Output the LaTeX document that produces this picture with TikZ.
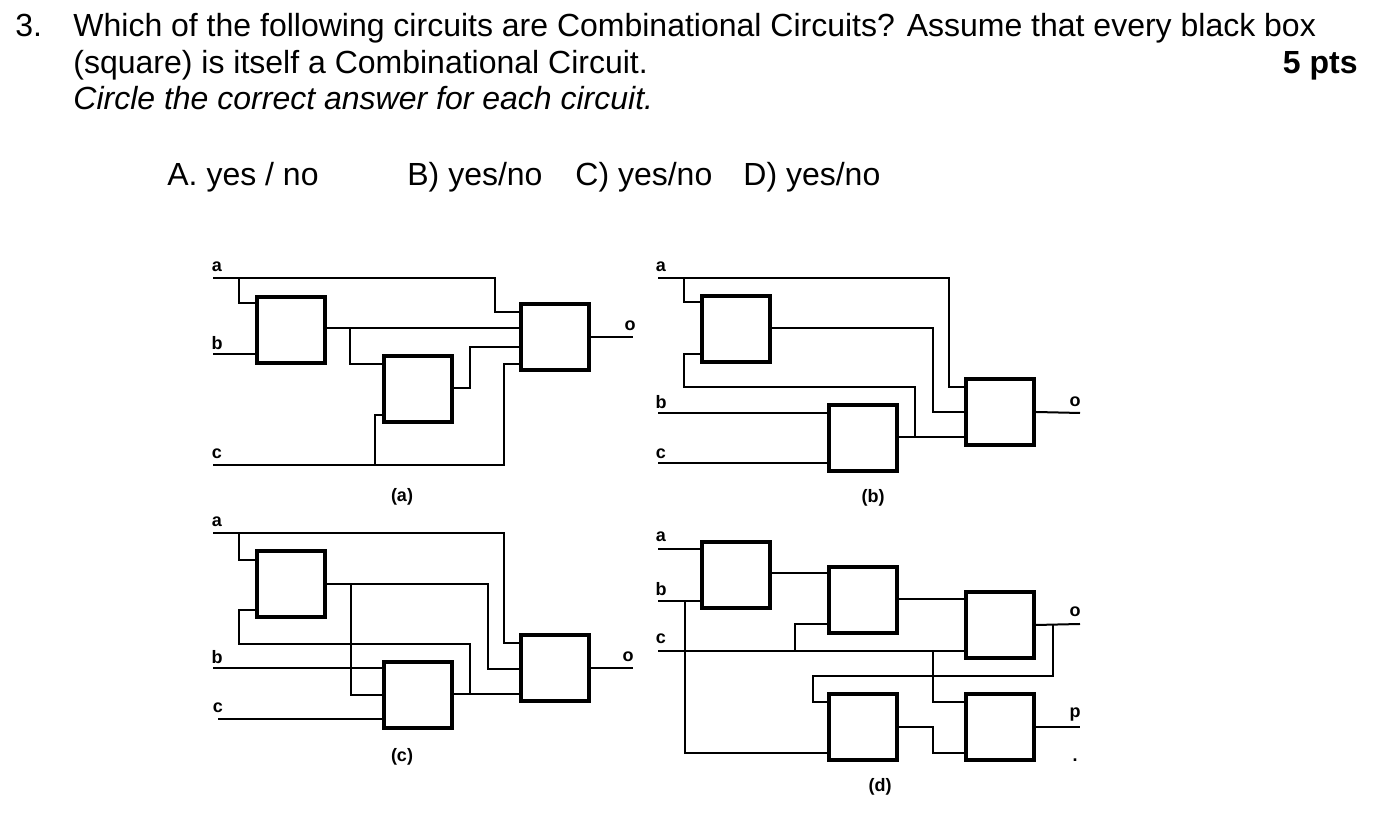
\documentclass[tikz,border=0pt]{standalone}
\usepackage{fontspec}
\setmainfont{Liberation Sans}
\begin{document}
\begin{tikzpicture}[x=0.5pt,y=-0.5pt,
  box/.style={draw,line width=2pt,minimum width=34pt,minimum height=33pt,inner sep=0pt},
  wire/.style={line width=1pt},
  lbl/.style={font=\bfseries\fontsize{9}{9}\selectfont,inner sep=0pt},
  txt/.style={anchor=base west,inner sep=0pt,font=\fontsize{16}{18}\selectfont}]
\useasboundingbox (0,0) rectangle (1389,838);
% question text
\node[txt] (num) at (15,37) {3.};
\node[txt] (l1) at (73,37) {Which of the following circuits are Combinational Circuits? Assume that every black box};
\node[txt] (l2) at (73,74) {(square) is itself a Combinational Circuit.};
\node[txt,anchor=base east,font=\bfseries\fontsize{16}{18}\selectfont] (pts) at (1358,74) {5 pts};
\node[txt,font=\itshape\fontsize{16}{18}\selectfont] (l3) at (73,110) {Circle the correct answer for each circuit.};
\node[txt] (ansA) at (167,186) {A. yes / no};
\node[txt] (ansB) at (407,186) {B) yes/no};
\node[txt] (ansC) at (575,186) {C) yes/no};
\node[txt] (ansD) at (743,186) {D) yes/no};
% circuit (a)
\node[box] (a1) at (291,330) {};
\node[box] (a2) at (418,389) {};
\node[box] (a3) at (555,337) {};
\node[lbl] at (217,267) {a};
\node[lbl] at (217,343) {b};
\node[lbl] at (217,454) {c};
\node[lbl] at (630,326) {o};
\node[lbl] at (402,497) {(a)};
\draw[wire] (213,278) -- (495,278) -- (495,312) -- (a3.west |- 0,312);
\draw[wire] (239,278) -- (239,303) -- (a1.west |- 0,303);
\draw[wire] (213,354) -- (a1.west |- 0,354);
\draw[wire] (a1.east |- 0,328) -- (a3.west |- 0,328);
\draw[wire] (350,328) -- (350,364) -- (a2.west |- 0,364);
\draw[wire] (a2.east |- 0,388) -- (470,388) -- (470,347) -- (a3.west |- 0,347);
\draw[wire] (213,465) -- (504,465) -- (504,364) -- (a3.west |- 0,364);
\draw[wire] (375,465) -- (375,415) -- (a2.west |- 0,415);
\draw[wire] (a3.east) -- (633,337);
% circuit (b)
\node[box] (b1) at (736,329) {};
\node[box] (b2) at (863,438) {};
\node[box] (b3) at (1000,412) {};
\node[lbl] at (661,267) {a};
\node[lbl] at (661,402) {b};
\node[lbl] at (661,454) {c};
\node[lbl] at (1075,402) {o};
\node[lbl] at (873,498) {(b)};
\draw[wire] (658,278) -- (949,278) -- (949,387) -- (b3.west |- 0,387);
\draw[wire] (684,278) -- (684,302) -- (b1.west |- 0,302);
\draw[wire] (b1.west |- 0,354) -- (684,354) -- (684,387) -- (915,387) -- (915,437);
\draw[wire] (b1.east |- 0,328) -- (933,328) -- (933,412) -- (b3.west |- 0,412);
\draw[wire] (658,413) -- (b2.west |- 0,413);
\draw[wire] (658,463) -- (b2.west |- 0,463);
\draw[wire] (b2.east |- 0,437) -- (b3.west |- 0,437);
\draw[wire] (b3.east) -- (1080,413);
% circuit (c)
\node[box] (c1) at (291,584) {};
\node[box] (c2) at (418,695) {};
\node[box] (c3) at (555,668) {};
\node[lbl] at (217,522) {a};
\node[lbl] at (217,657) {b};
\node[lbl] at (218,708) {c};
\node[lbl] at (628,657) {o};
\node[lbl] at (402,757) {(c)};
\draw[wire] (213,533) -- (504,533) -- (504,643) -- (c3.west |- 0,643);
\draw[wire] (239,533) -- (239,560) -- (c1.west |- 0,560);
\draw[wire] (c1.west |- 0,610) -- (239,610) -- (239,644) -- (470,644) -- (470,694);
\draw[wire] (c1.east |- 0,584) -- (488,584) -- (488,669) -- (c3.west |- 0,669);
\draw[wire] (351,584) -- (351,695) -- (c2.west |- 0,695);
\draw[wire] (213,668) -- (c2.west |- 0,668);
\draw[wire] (218,719) -- (c2.west |- 0,719);
\draw[wire] (c2.east |- 0,694) -- (c3.west |- 0,694);
\draw[wire] (c3.east) -- (633,668);
% circuit (d)
\node[box] (d1) at (736,575) {};
\node[box] (d2) at (863,600) {};
\node[box] (d3) at (1000,625) {};
\node[box] (d4) at (863,727) {};
\node[box] (d5) at (1000,727) {};
\node[lbl] at (661,537) {a};
\node[lbl] at (661,589) {b};
\node[lbl] at (661,639) {c};
\node[lbl] at (1075,612) {o};
\node[lbl] at (1075,715) {p};
\node[lbl] at (1075,760) {.};
\node[lbl] at (880,787) {(d)};
\draw[wire] (658,549) -- (d1.west |- 0,549);
\draw[wire] (658,601) -- (d1.west |- 0,601);
\draw[wire] (658,651) -- (d3.west |- 0,651);
\draw[wire] (d1.east |- 0,573) -- (d2.west |- 0,573);
\draw[wire] (795,651) -- (795,624) -- (d2.west |- 0,624);
\draw[wire] (d2.east |- 0,599) -- (d3.west |- 0,599);
\draw[wire] (d3.east) -- (1080,624);
\draw[wire] (1053,624) -- (1053,676) -- (813,676) -- (813,702) -- (d4.west |- 0,702);
\draw[wire] (685,601) -- (685,753) -- (d4.west |- 0,753);
\draw[wire] (d4.east |- 0,727) -- (933,727) -- (933,753) -- (d5.west |- 0,753);
\draw[wire] (933,651) -- (933,702) -- (d5.west |- 0,702);
\draw[wire] (d5.east) -- (1080,727);
\end{tikzpicture}
\end{document}
